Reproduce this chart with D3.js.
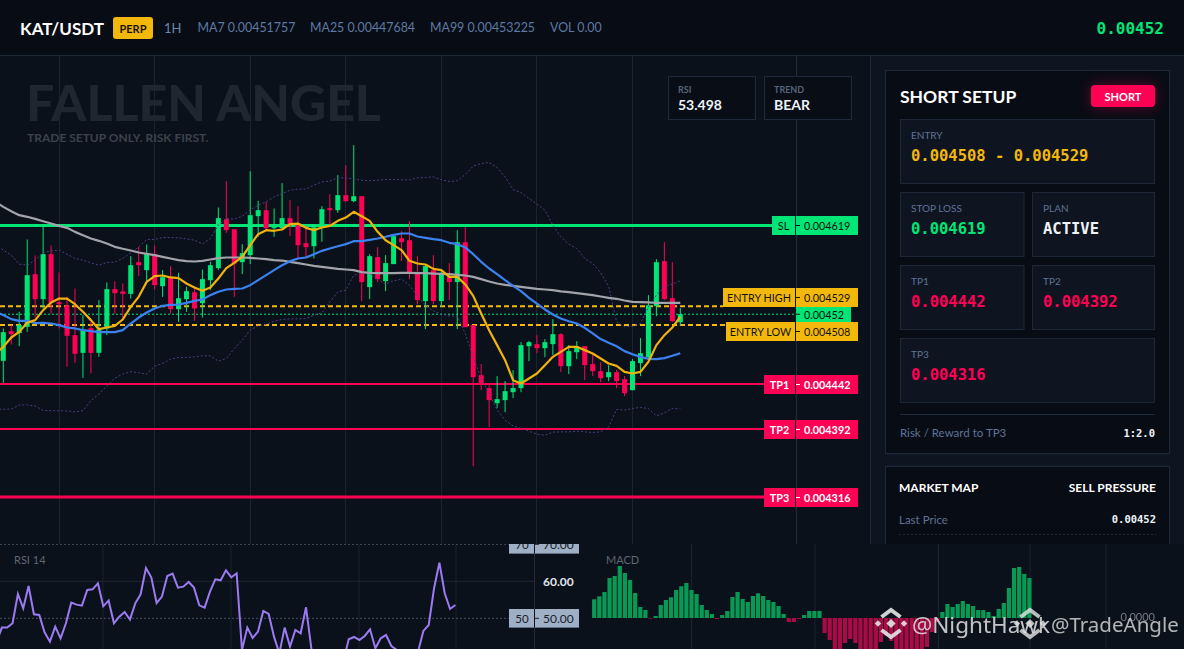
<!DOCTYPE html>
<html><head><meta charset="utf-8">
<script src="https://cdn.jsdelivr.net/npm/d3@7"></script>
<style>html,body{margin:0;padding:0;background:#0b111a;overflow:hidden}svg{display:block}text{font-family:Lato,"Noto Sans",sans-serif}.mono{font-family:"DejaVu Sans Mono",monospace;font-weight:700}</style>
</head><body><svg id="c" width="1184" height="649"></svg>
<script>
// Prices are in millionths of a USDT (4520 = 0.004520)
const candleOpen=[4468.0,4501.1,4498.9,4505.9,4564.7,4536.8,4587.0,4533.4,4529.7,4496.6,4476.9,4504.4,4476.9,4504.1,4548.0,4545.4,4542.7,4578.1,4569.2,4587.0,4551.3,4561.3,4525.6,4536.8,4544.6,4532.3,4558.0,4571.4,4626.1,4614.9,4578.1,4585.9,4629.4,4636.1,4616.0,4616.0,4627.2,4619.4,4599.3,4595.9,4619.4,4638.4,4636.1,4652.9,4646.2,4651.7,4550.2,4583.7,4556.9,4575.9,4604.9,4602.6,4565.8,4534.6,4569.2,4534.6,4561.3,4555.8,4600.4,4507.8,4452.0,4437.5,4420.7,4424.1,4433.0,4437.5,4484.3,4486.6,4482.1,4486.6,4497.7,4462.0,4477.6,4484.3,4464.3,4456.4,4449.7,4455.3,4447.5,4435.2,4465.4,4472.1,4529.0,4579.2,4537.9,4511.1];
const candleClose=[4500.0,4497.7,4507.8,4563.6,4536.8,4587.0,4532.7,4531.2,4495.9,4475.8,4502.2,4476.9,4502.9,4548.0,4543.5,4542.7,4574.7,4574.7,4587.0,4552.4,4561.3,4525.6,4537.9,4545.7,4526.4,4559.1,4574.7,4627.2,4613.8,4576.6,4588.1,4630.5,4636.1,4616.0,4617.5,4627.2,4619.4,4597.1,4594.8,4617.1,4637.2,4636.1,4652.9,4646.2,4651.7,4555.8,4584.8,4559.1,4577.0,4607.1,4600.4,4565.8,4535.7,4573.6,4534.6,4564.7,4555.8,4600.4,4505.5,4449.7,4441.9,4424.1,4425.2,4434.1,4437.5,4485.5,4488.8,4482.1,4488.8,4497.7,4462.0,4478.8,4483.2,4463.1,4456.4,4448.6,4455.3,4445.3,4431.9,4467.6,4476.5,4530.1,4578.1,4536.8,4512.2,4520.1];
const candleHigh=[4504.1,4507.8,4522.7,4603.4,4585.5,4617.5,4596.7,4566.6,4539.4,4548.7,4518.9,4511.5,4535.7,4555.4,4556.9,4554.3,4584.8,4595.2,4597.8,4596.7,4569.2,4573.6,4566.2,4550.6,4550.6,4569.9,4578.5,4639.1,4668.5,4614.9,4598.2,4679.6,4646.5,4645.4,4638.0,4666.3,4647.3,4640.6,4618.3,4617.5,4640.6,4654.0,4675.2,4686.3,4708.7,4651.7,4587.0,4594.8,4585.9,4607.1,4612.7,4623.8,4584.8,4574.7,4585.9,4569.2,4577.0,4613.8,4617.1,4507.8,4464.3,4440.8,4450.9,4445.3,4457.6,4488.8,4490.3,4496.6,4492.2,4514.5,4498.9,4485.5,4489.9,4484.3,4475.4,4466.5,4463.1,4457.6,4450.9,4469.8,4493.3,4541.3,4581.4,4600.4,4578.1,4526.8];
const candleLow=[4443.4,4486.2,4484.3,4500.3,4517.1,4526.4,4520.8,4504.1,4461.3,4465.7,4449.0,4453.8,4472.4,4496.6,4520.8,4515.2,4537.5,4562.8,4556.1,4547.6,4539.4,4520.8,4511.5,4522.7,4512.6,4516.3,4546.8,4569.2,4610.8,4539.4,4564.7,4575.9,4606.4,4613.8,4606.4,4614.5,4607.1,4582.2,4583.3,4582.2,4600.8,4619.4,4633.1,4645.4,4645.0,4534.6,4536.8,4555.8,4545.7,4575.9,4579.2,4559.1,4531.2,4503.3,4531.2,4527.9,4535.7,4503.3,4505.5,4350.4,4435.2,4393.9,4415.2,4410.7,4426.3,4433.0,4467.6,4476.5,4472.1,4474.3,4455.3,4453.1,4469.8,4446.4,4450.9,4444.2,4445.3,4437.5,4428.5,4435.2,4450.9,4468.7,4517.8,4535.7,4511.5,4507.0];
// Indicator series: first value belongs to the candle just off the left edge
const ma7=[4475.4,4483.6,4494.0,4500.3,4510.4,4513.4,4524.5,4533.1,4537.5,4537.5,4531.2,4522.7,4513.4,4503.3,4505.2,4507.0,4514.1,4528.2,4539.4,4556.1,4562.5,4563.2,4561.0,4560.2,4554.3,4549.8,4546.1,4549.8,4559.9,4571.4,4577.3,4584.0,4597.1,4609.3,4613.8,4613.1,4614.5,4620.5,4621.2,4616.4,4613.8,4616.8,4618.6,4624.2,4627.9,4634.3,4629.4,4624.2,4611.9,4602.6,4597.1,4591.5,4579.6,4576.6,4575.5,4570.6,4569.2,4561.7,4561.7,4553.2,4540.5,4520.8,4502.2,4485.5,4468.7,4446.4,4442.7,4448.3,4453.8,4463.1,4472.4,4478.0,4483.6,4483.6,4479.9,4476.2,4470.6,4465.0,4462.4,4455.7,4453.8,4455.7,4466.9,4485.5,4496.6,4505.2,4517.1];
const ma25=[4522.7,4519.0,4514.5,4512.6,4512.6,4510.0,4510.4,4509.6,4507.8,4505.2,4504.1,4502.2,4501.1,4500.0,4500.0,4500.0,4502.2,4509.6,4516.3,4521.9,4526.4,4529.4,4530.5,4530.8,4532.7,4534.9,4536.4,4541.3,4545.0,4547.6,4548.3,4548.7,4552.4,4558.0,4563.6,4569.2,4574.7,4579.2,4582.2,4583.3,4587.0,4590.7,4593.3,4595.9,4598.2,4601.5,4601.5,4603.0,4604.5,4606.4,4608.6,4610.1,4610.1,4606.7,4605.2,4603.8,4602.6,4599.7,4598.2,4594.5,4587.0,4578.5,4571.0,4564.7,4558.0,4551.7,4545.7,4538.3,4531.9,4525.3,4519.7,4515.2,4512.2,4509.6,4504.8,4498.5,4492.2,4488.1,4484.3,4478.8,4475.4,4472.4,4470.2,4469.8,4471.0,4473.6,4476.5];
const ma99=[4645.4,4639.8,4635.0,4630.5,4628.7,4626.4,4623.8,4621.2,4618.6,4616.4,4611.9,4608.2,4604.5,4601.9,4598.9,4595.2,4593.0,4591.1,4588.9,4587.4,4585.9,4584.0,4582.2,4580.3,4579.2,4578.8,4579.6,4581.1,4582.5,4583.3,4583.3,4583.3,4582.9,4582.2,4581.4,4580.3,4579.9,4578.5,4577.0,4575.5,4574.0,4572.9,4571.8,4570.6,4569.9,4569.2,4566.9,4566.2,4565.8,4565.8,4565.8,4566.2,4566.2,4565.8,4565.8,4565.4,4565.1,4564.7,4563.9,4563.2,4561.7,4559.1,4556.5,4554.3,4552.8,4551.7,4550.6,4549.4,4548.3,4547.6,4546.8,4545.4,4544.6,4543.5,4542.4,4541.3,4539.8,4538.3,4537.2,4535.3,4533.8,4533.4,4533.1,4532.7,4532.7,4532.7,4532.7];
const bandUpper=[4598.9,4591.5,4585.9,4575.9,4574.7,4580.3,4588.5,4590.7,4591.5,4587.0,4582.2,4580.3,4577.3,4574.7,4577.7,4578.1,4582.2,4588.5,4595.2,4603.4,4603.4,4605.6,4605.6,4605.2,4604.1,4602.6,4598.5,4604.5,4619.4,4626.8,4626.1,4629.4,4636.1,4641.7,4645.4,4651.0,4654.7,4658.4,4659.6,4659.6,4664.0,4667.7,4668.5,4672.2,4672.2,4670.7,4669.6,4668.9,4669.6,4670.3,4670.3,4670.0,4670.0,4672.2,4672.6,4673.3,4670.0,4668.1,4668.9,4675.9,4685.2,4688.2,4689.3,4683.7,4673.3,4659.2,4655.8,4649.1,4642.8,4636.1,4619.4,4606.4,4598.2,4593.3,4582.2,4576.6,4566.2,4551.3,4511.5,4505.9,4506.7,4509.6,4528.2,4541.3,4550.6,4553.5,4557.3];
const bandLower=[4413.9,4413.9,4414.2,4418.7,4418.7,4417.5,4412.7,4412.3,4412.3,4412.0,4410.9,4412.3,4423.5,4430.9,4439.9,4448.5,4453.3,4455.8,4454.7,4453.3,4462.0,4465.0,4469.8,4471.7,4471.7,4472.4,4473.6,4473.6,4467.6,4470.6,4481.7,4491.0,4502.2,4507.0,4508.5,4512.2,4514.1,4514.8,4514.8,4515.2,4518.9,4521.5,4533.8,4545.0,4546.8,4563.6,4565.4,4565.4,4559.1,4553.5,4557.3,4559.1,4552.4,4540.5,4530.1,4523.8,4520.1,4518.2,4517.8,4498.5,4472.4,4448.3,4431.5,4413.0,4401.8,4395.4,4392.5,4389.5,4386.1,4385.0,4388.4,4388.7,4388.7,4389.5,4388.7,4388.0,4388.7,4394.3,4413.7,4413.0,4414.8,4415.9,4414.8,4406.6,4410.0,4414.8,4414.4];
const rsiValues=[43.69,47.48,47.48,48.65,56.58,52.70,58.74,51.08,50.90,46.22,43.69,47.75,44.59,48.65,54.23,53.69,53.42,57.66,57.84,59.46,53.24,54.77,48.65,50.45,51.71,49.64,54.05,56.49,63.60,61.08,54.14,55.86,61.44,62.07,58.29,58.56,59.82,58.29,53.51,52.88,57.21,60.54,60.27,62.97,61.08,62.16,41.44,47.48,44.68,46.40,51.98,51.17,45.05,40.54,47.48,42.34,46.85,45.95,52.97,41.89,33.78,30.18,29.28,31.98,34.68,38.29,44.32,44.95,44.14,45.23,47.03,41.89,44.59,45.50,42.52,41.44,40.09,37.39,36.49,40.99,46.58,48.20,58.11,65.05,56.76,52.52,53.60];
const macdHist=[1.87,2.17,2.60,4.00,4.20,5.20,4.50,3.80,2.50,1.10,0.80,-0.07,0.20,1.30,1.80,2.07,2.80,3.17,3.50,2.80,2.40,1.30,0.80,0.40,-0.10,0.30,0.70,2.10,2.60,1.90,1.60,2.20,2.47,2.20,1.80,1.60,1.20,0.40,-0.40,-0.40,-0.10,0.30,0.70,0.70,0.70,-1.50,-2.20,-3.20,-3.37,-2.50,-2.10,-2.50,-3.10,-3.20,-3.20,-3.10,-2.40,-1.77,-2.30,-3.20,-3.20,-3.20,-3.20,-3.10,-3.10,-2.90,-1.40,-0.40,0.60,1.40,1.10,1.40,1.70,1.40,1.20,0.80,0.80,0.60,0.20,0.90,1.50,3.00,5.00,5.10,4.40,4.00];
const levelNames=["SL","ENTRY HIGH","ENTRY LOW","TP1","TP2","TP3"];
const levelPrices=[4619,4529,4508,4442,4392,4316];
const levelTexts=["0.004619","0.004529","0.004508","0.004442","0.004392","0.004316"];
const lastPrice=4520, lastText="0.00452";
const headerStats=["MA7 0.00451757","MA25 0.00447684","MA99 0.00453225","VOL 0.00"];
const rsiTicks=[70,60,50];

const svg=d3.select("#c");
const C={bg:"#0b111a",head:"#080c15",line:"#1c2634",grid:"#1b2230",green:"#00e676",red:"#ff0055",gold:"#f3b80c",muted:"#5f7396",white:"#eef3f8"};
function T(p,x,y,s,o={}){const t=p.append("text").attr("x",x).attr("y",y).text(s).attr("font-size",o.size||12).attr("fill",o.fill||C.white).attr("font-weight",o.weight||400).attr("text-anchor",o.anchor||"start").attr("dominant-baseline","central");if(o.mono)t.attr("class","mono");return t}
function R(p,x,y,w,h,f,s,r){return p.append("rect").attr("x",x).attr("y",y).attr("width",w).attr("height",h).attr("fill",f).attr("stroke",s||"none").attr("rx",r||0)}

const defs=svg.append("defs");
defs.append("clipPath").attr("id","main").append("rect").attr("x",0).attr("y",56).attr("width",796).attr("height",488);
defs.append("clipPath").attr("id","side").append("rect").attr("x",870).attr("y",56).attr("width",314).attr("height",488);
defs.append("clipPath").attr("id","low").append("rect").attr("x",0).attr("y",544).attr("width",1184).attr("height",105);
const gl=defs.append("filter").attr("id","glow").attr("x","-40%").attr("y","-80%").attr("width","180%").attr("height","260%");
gl.append("feGaussianBlur").attr("stdDeviation",7);

R(svg,0,0,1184,649,C.bg);
// header
R(svg,0,0,1184,55,C.head);
svg.append("line").attr("x1",0).attr("x2",1184).attr("y1",55.5).attr("y2",55.5).attr("stroke","#1f2a38");
T(svg,20,28,"KAT/USDT",{size:17,weight:700,fill:"#fff"});
R(svg,113,17,40,22,C.gold,null,3);
T(svg,133,28,"PERP",{size:11,weight:700,fill:"#1a1405",anchor:"middle"});
T(svg,164,27.5,"1H",{size:13,fill:"#6a86ab"});
[197.5,310,430,550].forEach((x,i)=>T(svg,x,27.5,headerStats[i],{size:12.4,fill:"#5d7aa3"}));
T(svg,1164,28,lastText,{size:16,fill:C.green,anchor:"end",mono:true});

// main chart
const x=d3.scaleLinear().domain([0,85]).range([3.3,680.3]);
const y=d3.scaleLinear().domain([4619,4316]).range([225.5,497]);
const main=svg.append("g").attr("clip-path","url(#main)");
const gridX=[59,154,250,345,441,536,632];
main.selectAll(".gx").data(gridX).join("line").attr("x1",d=>d+.5).attr("x2",d=>d+.5).attr("y1",56).attr("y2",544).attr("stroke",C.grid);
T(main,26,102,"FALLEN ANGEL",{size:50,weight:900,fill:"#1f2630"});
T(main,27,137,"TRADE SETUP ONLY. RISK FIRST.",{size:12,weight:700,fill:"#3c424d"});

const levelColors=[C.green,C.gold,C.gold,C.red,C.red,C.red];
const levelWidth=[3,2,2,2,2,3];
const labelLeft=[772,723,726,764,764,764];
const boxTop=[216,288,322,375,420,488];
levelPrices.forEach((p,i)=>{
 const l=main.append("line").attr("x1",0).attr("x2",labelLeft[i]).attr("y1",y(p)).attr("y2",y(p)).attr("stroke",levelColors[i]).attr("stroke-width",levelWidth[i]);
 if(levelColors[i]===C.gold) l.attr("stroke-dasharray","5 3");
});
main.append("line").attr("x1",0).attr("x2",796).attr("y1",y(lastPrice)).attr("y2",y(lastPrice)).attr("stroke",C.green).attr("stroke-dasharray","2 2");

const idx=d3.range(candleOpen.length);
const col=i=>candleClose[i]>=candleOpen[i]?C.green:C.red;
main.selectAll(".wick").data(idx).join("line").attr("x1",i=>x(i)).attr("x2",i=>x(i)).attr("y1",i=>y(candleHigh[i])).attr("y2",i=>y(candleLow[i])).attr("stroke",col).attr("stroke-width",1);
main.selectAll(".body").data(idx).join("rect").attr("x",i=>x(i)-2.5).attr("width",5).attr("y",i=>Math.min(y(candleOpen[i]),y(candleClose[i]))).attr("height",i=>Math.max(1,Math.abs(y(candleOpen[i])-y(candleClose[i])))).attr("fill",col);

const ln=d3.line().x((d,i)=>x(i-1)).y(d=>y(d)).curve(d3.curveLinear);
[[bandUpper,"#4a3f82",1,"2 2"],[bandLower,"#4a3f82",1,"2 2"],[ma99,"#a3a3ab",2.2,null],[ma25,"#3b82f0",2.2,null],[ma7,"#f0b20c",2.2,null]].forEach(([d,c,w,da])=>{
 main.append("path").attr("d",ln(d)).attr("fill","none").attr("stroke",c).attr("stroke-width",w).attr("stroke-dasharray",da).attr("stroke-linejoin","round");
});

// axis line
svg.append("line").attr("x1",796.5).attr("x2",796.5).attr("y1",56).attr("y2",544).attr("stroke","#222c3c");

// info boxes
[[668,"RSI","53.498"],[764,"TREND","BEAR"]].forEach(([bx,a,b])=>{
 R(svg,bx+.5,76.5,87,43,"#090d16","#1e2a3c");
 T(svg,bx+10,89,a,{size:9,weight:700,fill:"#566579"});
 T(svg,bx+10,104,b,{size:14,weight:700,fill:C.white});
});

// price labels
levelPrices.forEach((p,i)=>{
 const c=levelColors[i],tc=c===C.red?"#fff":"#13110a",w=c===C.red?700:400;
 R(svg,labelLeft[i],boxTop[i],795-labelLeft[i],19,c);
 T(svg,labelLeft[i]+(795-labelLeft[i])/2,boxTop[i]+9.5,levelNames[i],{size:10.8,fill:tc,weight:w,anchor:"middle"});
 R(svg,796,boxTop[i],62,19,c);
 svg.append("line").attr("x1",796).attr("x2",800).attr("y1",boxTop[i]+9.5).attr("y2",boxTop[i]+9.5).attr("stroke",tc);
 T(svg,804,boxTop[i]+9.5,levelTexts[i],{size:10.8,fill:tc,weight:w});
});
R(svg,796,307,55,15,C.green);
svg.append("line").attr("x1",796).attr("x2",800).attr("y1",y(lastPrice)).attr("y2",y(lastPrice)).attr("stroke","#13110a");
T(svg,804,314.5,lastText,{size:10.8,fill:"#13110a"});

// sidebar
const side=svg.append("g").attr("clip-path","url(#side)");
R(side,870,56,314,488,"#0e1420");
side.append("line").attr("x1",870.5).attr("x2",870.5).attr("y1",56).attr("y2",544).attr("stroke","#1f2a38");
R(side,885.5,70.5,284,383,"#080c15","#1e2a3c");
T(side,900,96.5,"SHORT SETUP",{size:17.5,weight:700,fill:"#fff"});
R(side,1091,85,64,22,C.red,null,4).attr("filter","url(#glow)").attr("opacity",.35);
R(side,1091,85,64,22,C.red,null,4);
T(side,1123,96,"SHORT",{size:11,weight:700,fill:"#fff",anchor:"middle"});
const cards=[[900.5,119.5,254,64,"ENTRY","0.004508 - 0.004529",C.gold],[900.5,192.5,123.5,64,"STOP LOSS","0.004619",C.green],[1032.5,192.5,122,64,"PLAN","ACTIVE",C.white],[900.5,265.5,123.5,64,"TP1","0.004442",C.red],[1032.5,265.5,122,64,"TP2","0.004392",C.red],[900.5,338.5,254,64,"TP3","0.004316",C.red]];
cards.forEach(([cx,cy,w,h,a,b,c])=>{
 R(side,cx,cy,w,h,"#0f1520","#1e2738");
 T(side,cx+10.5,cy+15.5,a,{size:10,fill:C.muted});
 T(side,cx+10.5,cy+36,b,{size:15.5,fill:c,mono:true});
});
side.append("line").attr("x1",900).attr("x2",1155).attr("y1",414.5).attr("y2",414.5).attr("stroke","#1e2a3c");
T(side,900,432,"Risk / Reward to TP3",{size:11.5,fill:C.muted});
T(side,1155,432.5,"1:2.0",{size:10.5,fill:C.white,anchor:"end",mono:true});
R(side,885.5,466.5,284,120,"#080c15","#1e2a3c");
T(side,899,487,"MARKET MAP",{size:12,weight:700,fill:"#fff"});
T(side,1156,487,"SELL PRESSURE",{size:12,weight:700,fill:"#fff",anchor:"end"});
T(side,899,519,"Last Price",{size:11.5,fill:C.muted});
T(side,1156,519,lastText,{size:10.5,fill:C.white,anchor:"end",mono:true});
side.append("line").attr("x1",899).attr("x2",1156).attr("y1",534.5).attr("y2",534.5).attr("stroke","#1e2a3c").attr("stroke-dasharray","2 2");

// bottom panels
const low=svg.append("g").attr("clip-path","url(#low)");
R(low,0,544,1184,105,C.bg);
const yr=d3.scaleLinear().domain([70,50]).range([544.3,618.3]);
const xr=d3.scaleLinear().domain([0,85]).range([1.9,455.4]);
[103,231,359,456,691.5,815,938.5,1030,1106].forEach(v=>low.append("line").attr("x1",v).attr("x2",v).attr("y1",544).attr("y2",649).attr("stroke","#1b2230"));
low.append("line").attr("x1",0).attr("x2",534).attr("y1",yr(60)).attr("y2",yr(60)).attr("stroke","#1e2633");
[70,50].forEach(v=>low.append("line").attr("x1",0).attr("x2",509).attr("y1",yr(v)).attr("y2",yr(v)).attr("stroke","#4a5260").attr("stroke-dasharray","2 2"));
low.append("path").attr("d",d3.line().x((d,i)=>xr(i-1)).y(d=>yr(d))(rsiValues)).attr("fill","none").attr("stroke","#9b7bf2").attr("stroke-width",2);
low.append("line").attr("x1",534.5).attr("x2",534.5).attr("y1",544).attr("y2",649).attr("stroke","#222c3c");
rsiTicks.forEach(v=>{
 const yy=yr(v);
 if(v!==60){
  R(low,509,yy-9.3,70,18.6,"#9fb0c6");
  low.append("line").attr("x1",534.5).attr("x2",534.5).attr("y1",yy-9.3).attr("y2",yy+9.3).attr("stroke","#0b111a");
  low.append("line").attr("x1",535).attr("x2",539).attr("y1",yy).attr("y2",yy).attr("stroke","#1a2028");
  T(low,522,yy,String(v),{size:11.5,fill:"#1a2028",anchor:"middle"});
  T(low,543,yy,v.toFixed(2),{size:12,fill:"#1a2028"});
 } else T(low,543,yy,v.toFixed(2),{size:12,weight:700,fill:"#e0e6ee"});
});
T(low,14,559,"RSI 14",{size:11,fill:"#5e6672"});
T(low,606,559,"MACD",{size:11,fill:"#5e6672"});
const xm=d3.scaleLinear().domain([0,85]).range([594.2,1029.4]);
const ym=d3.scaleLinear().domain([0,1]).range([618,608]);
low.selectAll(".hist").data(macdHist).join("rect").attr("x",(d,i)=>xm(i)-2.1).attr("width",4.2).attr("y",d=>Math.min(ym(d),ym(0))).attr("height",d=>Math.abs(ym(d)-ym(0))).attr("fill",d=>d>=0?"#089a55":"#aa0b47");
T(low,1155,616,"0.0000",{size:11,fill:"#c9ced6",anchor:"end"}).attr("opacity",.55);
// watermark
function mark(cx,cy,op){const g=svg.append("g").attr("transform",`translate(${cx},${cy})`).attr("opacity",op);
 [-1,1].forEach(s=>g.append("path").attr("d",`M-9.5,${s*6.5} L0,${s*13.5} L9.5,${s*6.5}`).attr("fill","none").attr("stroke","#e6e6e6").attr("stroke-width",4));
 [[-13,0,4.5],[13,0,4.5],[0,0,6.5]].forEach(([a,b,s])=>g.append("rect").attr("x",a-s/2).attr("y",b-s/2).attr("width",s).attr("height",s).attr("transform",`rotate(45 ${a} ${b})`).attr("fill","#e6e6e6"));}
mark(891,623.5,.9);mark(1030,623.5,.8);
T(svg,912,624,"@NightHawk",{size:22.5,fill:"#e2e2e2"}).attr("opacity",.85).style("font-family","'Noto Sans'");
T(svg,1051,624,"@TradeAngle",{size:20.5,fill:"#e2e2e2"}).attr("opacity",.78).style("font-family","'Noto Sans'");
</script></body></html>
